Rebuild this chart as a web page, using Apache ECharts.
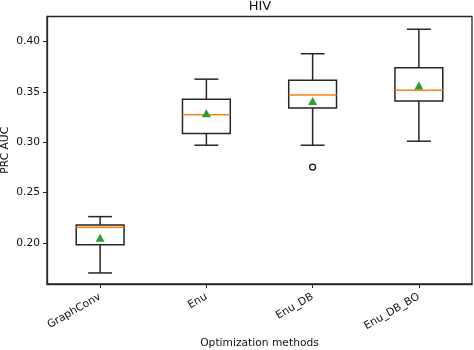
<!DOCTYPE html>
<html>
<head>
<meta charset="utf-8">
<script src="https://cdn.jsdelivr.net/npm/echarts@6/dist/echarts.min.js"></script>
<style>html,body{margin:0;padding:0;background:#fff}#c{width:474px;height:350px}</style>
</head>
<body>
<div id="c"></div>
<script>
var categories = ['GraphConv', 'Enu', 'Enu_DB', 'Enu_DB_BO'];
var whiskerLow = [0.170, 0.297, 0.297, 0.301];
var q1 = [0.198, 0.3087, 0.334, 0.341];
var median = [0.2155, 0.3273, 0.347, 0.3517];
var q3 = [0.2177, 0.3427, 0.3617, 0.374];
var whiskerHigh = [0.226, 0.3627, 0.388, 0.4123];
var means = [0.205, 0.3287, 0.341, 0.3563];
var outliers = [[2, 0.2753]];
var yTicks = [0.20, 0.25, 0.30, 0.35, 0.40];

var boxData = categories.map(function (c, i) {
  return [i, whiskerLow[i], q1[i], median[i], q3[i], whiskerHigh[i]];
});
var meanData = categories.map(function (c, i) { return [i, means[i]]; });

var FONT = 'DejaVu Sans';
var DARK = '#262626';

function renderBox(params, api) {
  var idx = api.value(0);
  var band = api.size([1, 0])[0];
  var half = band * 0.45 / 2;
  var capHalf = half / 2;
  var pLow = api.coord([idx, api.value(1)]);
  var pQ1 = api.coord([idx, api.value(2)]);
  var pMed = api.coord([idx, api.value(3)]);
  var pQ3 = api.coord([idx, api.value(4)]);
  var pHigh = api.coord([idx, api.value(5)]);
  var x = pLow[0];
  var lineStyle = { stroke: DARK, lineWidth: 1.5, fill: null };
  return {
    type: 'group',
    children: [
      { type: 'line', shape: { x1: x, y1: pQ1[1], x2: x, y2: pLow[1] }, style: lineStyle },
      { type: 'line', shape: { x1: x, y1: pQ3[1], x2: x, y2: pHigh[1] }, style: lineStyle },
      { type: 'line', shape: { x1: x - capHalf, y1: pLow[1], x2: x + capHalf, y2: pLow[1] }, style: lineStyle },
      { type: 'line', shape: { x1: x - capHalf, y1: pHigh[1], x2: x + capHalf, y2: pHigh[1] }, style: lineStyle },
      { type: 'rect', shape: { x: x - half, y: pQ3[1], width: half * 2, height: pQ1[1] - pQ3[1] }, style: { stroke: DARK, lineWidth: 1.5, fill: 'rgba(0,0,0,0)' } },
      { type: 'line', shape: { x1: x - half, y1: pMed[1], x2: x + half, y2: pMed[1] }, style: { stroke: '#ff7f0e', lineWidth: 1.5 } }
    ]
  };
}

var chart = echarts.init(document.getElementById('c'), null, { renderer: 'canvas' });
chart.setOption({
  backgroundColor: '#fff',
  animation: false,
  title: {
    text: 'HIV', left: 260, top: 0, padding: 0, textAlign: 'center',
    textStyle: { fontFamily: FONT, fontSize: 13, fontWeight: 'normal', color: '#111' }
  },
  grid: {
    left: 47, right: 2, top: 16.5, bottom: 66,
    outerBoundsMode: 'none', containLabel: false,
    show: true, borderColor: DARK, borderWidth: 1.3, backgroundColor: 'transparent'
  },
  xAxis: {
    type: 'category',
    data: categories,
    boundaryGap: true,
    name: 'Optimization methods',
    nameLocation: 'middle',
    nameGap: 54,
    nameMoveOverlap: false,
    nameTextStyle: { fontFamily: FONT, fontSize: 10.7, color: '#111' },
    axisLine: { show: true, lineStyle: { color: DARK, width: 1.3 } },
    axisTick: { show: true, alignWithLabel: true, length: 4, lineStyle: { color: DARK, width: 1 } },
    axisLabel: { rotate: 30, margin: 12, fontFamily: FONT, fontSize: 10.7, color: '#111' },
    splitLine: { show: false }
  },
  yAxis: {
    type: 'value',
    min: 0.159, max: 0.425,
    name: 'PRC AUC',
    nameLocation: 'middle',
    nameGap: 36,
    nameRotate: 90,
    nameMoveOverlap: false,
    nameTextStyle: { fontFamily: FONT, fontSize: 10.7, color: '#111' },
    axisLine: { show: true, lineStyle: { color: DARK, width: 1.3 } },
    axisTick: { show: true, length: 4, customValues: yTicks, lineStyle: { color: DARK, width: 1 } },
    axisLabel: {
      customValues: yTicks, margin: 7, fontFamily: FONT, fontSize: 10.7, color: '#111',
      formatter: function (v) { return v.toFixed(2); }
    },
    splitLine: { show: false }
  },
  series: [
    {
      type: 'custom',
      renderItem: renderBox,
      data: boxData,
      encode: { x: 0, y: [1, 2, 3, 4, 5] },
      z: 2
    },
    {
      type: 'scatter',
      data: meanData,
      symbol: 'triangle',
      symbolSize: [9, 8],
      itemStyle: { color: '#2ca02c', opacity: 1 },
      z: 3
    },
    {
      type: 'scatter',
      data: outliers,
      symbol: 'circle',
      symbolSize: 6,
      itemStyle: { color: '#fff', borderColor: '#111', borderWidth: 1.3, opacity: 1 },
      z: 3
    }
  ]
});
</script>
</body>
</html>
